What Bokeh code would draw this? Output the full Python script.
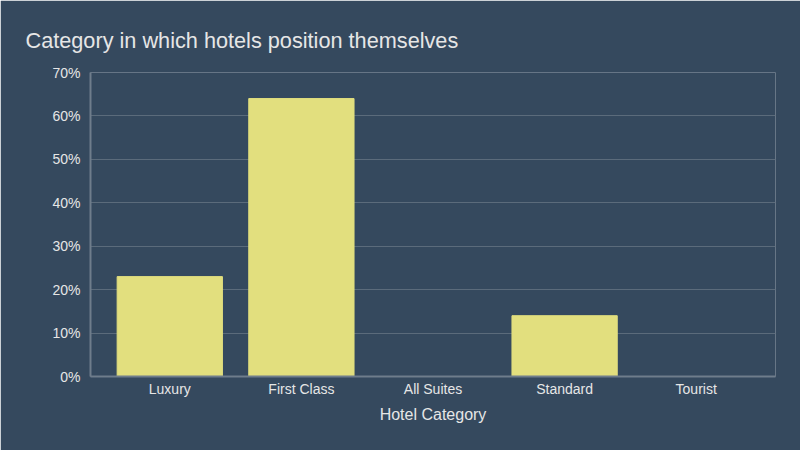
from bokeh.embed import file_html
from bokeh.models import ColumnDataSource, FactorRange, PrintfTickFormatter
from bokeh.plotting import figure
from bokeh.resources import INLINE

CATEGORIES = ["Luxury", "First Class", "All Suites", "Standard", "Tourist"]
SHARES = [23, 64, 0, 14, 0]
Y_TICKS = [0, 10, 20, 30, 40, 50, 60, 70]

BG = "#35495e"
BAR = "#e2df7e"
GRID = "#5b6b7b"
AXIS = "#6f7d8b"
TEXT = "#e6e6e6"
FONT = "Liberation Sans"

source = ColumnDataSource(data=dict(category=CATEGORIES, share=SHARES))

p = figure(
    x_range=FactorRange(factors=CATEGORIES, range_padding=0.041),
    y_range=(0, 70),
    width=800,
    height=450,
    title="Category in which hotels position themselves",
    output_backend="svg",
    toolbar_location=None,
    tools="",
    background_fill_color=BG,
    border_fill_color=BG,
    outline_line_color=None,
    min_border_left=90,
    min_border_right=25,
    min_border_top=72,
    min_border_bottom=74,
)

p.vbar(x="category", top="share", width=0.8, source=source,
       fill_color=BAR, line_color=BAR)

p.title.text_color = TEXT
p.title.text_font = FONT
p.title.text_font_size = "21.7px"
p.title.text_font_style = "normal"
p.title.offset = -65
p.title.standoff = 40

p.xgrid.grid_line_color = None
p.ygrid.grid_line_color = GRID
p.ygrid.grid_line_width = 1

p.yaxis.ticker = Y_TICKS
p.yaxis.formatter = PrintfTickFormatter(format="%d%%")
p.xaxis.axis_label = "Hotel Category"

for ax in (p.xaxis, p.yaxis):
    ax.axis_line_color = AXIS
    ax.axis_line_width = 2
    ax.major_tick_line_color = None
    ax.minor_tick_line_color = None
    ax.major_tick_out = 0
    ax.major_tick_in = 0
    ax.major_label_text_color = TEXT
    ax.major_label_text_font = FONT
    ax.major_label_text_font_size = "14px"
    ax.axis_label_text_color = TEXT
    ax.axis_label_text_font = FONT
    ax.axis_label_text_font_size = "16px"
    ax.axis_label_text_font_style = "normal"

p.yaxis.major_label_standoff = 10
p.xaxis.major_label_standoff = 4
p.xaxis.axis_label_standoff = 6

open("out.html", "w").write(file_html(p, INLINE))
